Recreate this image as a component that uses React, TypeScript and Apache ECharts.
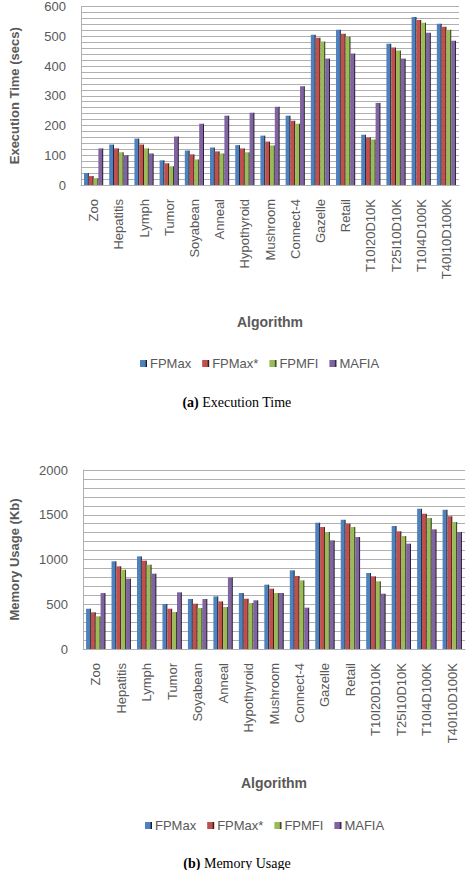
import React, { useEffect, useRef } from 'react';
import * as echarts from 'echarts';

const categories = [
  'Zoo', 'Hepatitis', 'Lymph', 'Tumor', 'Soyabean', 'Anneal', 'Hypothyroid',
  'Mushroom', 'Connect-4', 'Gazelle', 'Retail', 'T10I20D10K', 'T25I10D10K',
  'T10I4D100K', 'T40I10D100K',
];
const seriesNames = ['FPMax', 'FPMax*', 'FPMFI', 'MAFIA'];
const colors = ['#4F81BD', '#C0504D', '#9BBB59', '#8064A2'];

// Execution time (secs)
const timeFPMax = [40, 136, 156, 83, 116, 126, 134, 166, 233, 505, 522, 169, 475, 565, 542];
const timeFPMaxStar = [30, 123, 136, 73, 103, 113, 123, 146, 216, 495, 508, 160, 462, 555, 532];
const timeFPMFI = [23, 110, 123, 63, 86, 106, 110, 133, 206, 482, 498, 153, 452, 545, 522];
const timeMAFIA = [123, 100, 106, 163, 206, 233, 243, 263, 332, 425, 442, 276, 425, 512, 485];

// Memory usage (Kb)
const memFPMax = [450, 980, 1035, 503, 559, 588, 626, 719, 879, 1411, 1445, 849, 1374, 1568, 1557];
const memFPMaxStar = [410, 924, 987, 450, 506, 532, 562, 674, 816, 1363, 1400, 812, 1315, 1512, 1482];
const memFPMFI = [365, 886, 942, 413, 458, 469, 514, 626, 767, 1307, 1363, 756, 1262, 1464, 1419];
const memMAFIA = [625, 786, 842, 633, 559, 800, 544, 626, 462, 1214, 1251, 618, 1177, 1337, 1307];

// [min, max, interval]
const timeTicks = [0, 600, 100];
const memTicks = [0, 2000, 500];

const labelFont = 'Liberation Sans';
const textColor = '#595959';
const gridColor = '#b0b0b0';

const App: React.FC = () => {
  const chartRef = useRef<HTMLDivElement>(null);

  useEffect(() => {
    if (!chartRef.current) return;
    const chart = echarts.init(chartRef.current, undefined, { renderer: 'svg' });

    const timeData = [timeFPMax, timeFPMaxStar, timeFPMFI, timeMAFIA];
    const memData = [memFPMax, memFPMaxStar, memFPMFI, memMAFIA];

    const xAxisCommon = (index: number, gap: number) => ({
      type: 'category',
      gridIndex: index,
      data: categories,
      name: 'Algorithm',
      nameLocation: 'middle',
      nameGap: gap,
      nameTextStyle: { fontFamily: labelFont, fontSize: 14, fontWeight: 'bold', color: textColor },
      axisLine: { lineStyle: { color: gridColor } },
      axisTick: { show: false },
      splitLine: { show: false },
      axisLabel: {
        rotate: 90,
        interval: 0,
        margin: 14,
        fontFamily: labelFont,
        fontSize: 13,
        color: textColor,
      },
    });

    const yAxisCommon = (index: number, ticks: number[], name: string, gap: number) => ({
      type: 'value',
      gridIndex: index,
      min: ticks[0],
      max: ticks[1],
      interval: ticks[2],
      name,
      nameLocation: 'middle',
      nameGap: gap,
      nameTextStyle: { fontFamily: labelFont, fontSize: 13, fontWeight: 'bold', color: textColor },
      axisLine: { show: true, lineStyle: { color: gridColor } },
      axisTick: { show: false },
      axisLabel: {
        margin: 15,
        fontFamily: labelFont,
        fontSize: 13,
        color: textColor,
        formatter: (v: number) => String(v),
      },
      splitLine: { show: true, lineStyle: { color: gridColor, width: 1 } },
      minorTick: { show: false, splitNumber: 5 },
      minorSplitLine: { show: true, lineStyle: { color: gridColor, width: 1 } },
    });

    const makeSeries = (data: number[][], index: number) =>
      data.map((values, i) => ({
        name: seriesNames[i],
        type: 'bar',
        xAxisIndex: index,
        yAxisIndex: index,
        data: values,
        barGap: '0%',
        barCategoryGap: '24%',
        itemStyle: {
          color: new echarts.graphic.LinearGradient(0, 0, 1, 0, [
            { offset: 0, color: colors[i] },
            { offset: 0.7, color: colors[i] },
            { offset: 1, color: echarts.color.modifyHSL(colors[i], undefined, undefined, -0.12) as string },
          ]),
        },
      }));

    const legendCommon = (top: number, left: number) => ({
      top,
      left,
      data: seriesNames,
      itemWidth: 7,
      itemHeight: 7,
      itemGap: 11,
      icon: 'rect',
      textStyle: { fontFamily: labelFont, fontSize: 13, color: textColor, padding: [0, 0, 0, -2] },
    });

    const caption = (label: string, text: string, top: number) => ({
      type: 'text',
      left: 'center',
      top,
      style: {
        text: `{b|${label}} ${text}`,
        rich: {
          b: { fontFamily: 'Liberation Serif', fontSize: 14, fontWeight: 'bold', fill: '#000' },
        },
        fontFamily: 'Liberation Serif',
        fontSize: 14,
        fill: '#000',
      },
    });

    const option = {
      animation: false,
      color: colors,
      grid: [
        { left: 77, right: 15, top: 5, height: 180 },
        { left: 80, right: 9, top: 470, height: 179 },
      ],
      xAxis: [xAxisCommon(0, 130), xAxisCommon(1, 127)],
      yAxis: [
        yAxisCommon(0, timeTicks, 'Execution Time (secs)', 60),
        yAxisCommon(1, memTicks, 'Memory Usage (Kb)', 62),
      ],
      legend: [legendCommon(352, 135), legendCommon(814, 140)],
      series: [...makeSeries(timeData, 0), ...makeSeries(memData, 1)],
      graphic: [
        caption('(a)', 'Execution Time', 395),
        caption('(b)', 'Memory Usage', 856),
      ],
    };

    chart.setOption(option);

    return () => {
      chart.dispose();
    };
  }, []);

  return (
    <div
      ref={chartRef}
      style={{ position: 'fixed', left: 0, top: 0, width: '474px', height: '870px', background: '#fff' }}
    />
  );
};

export default App;
